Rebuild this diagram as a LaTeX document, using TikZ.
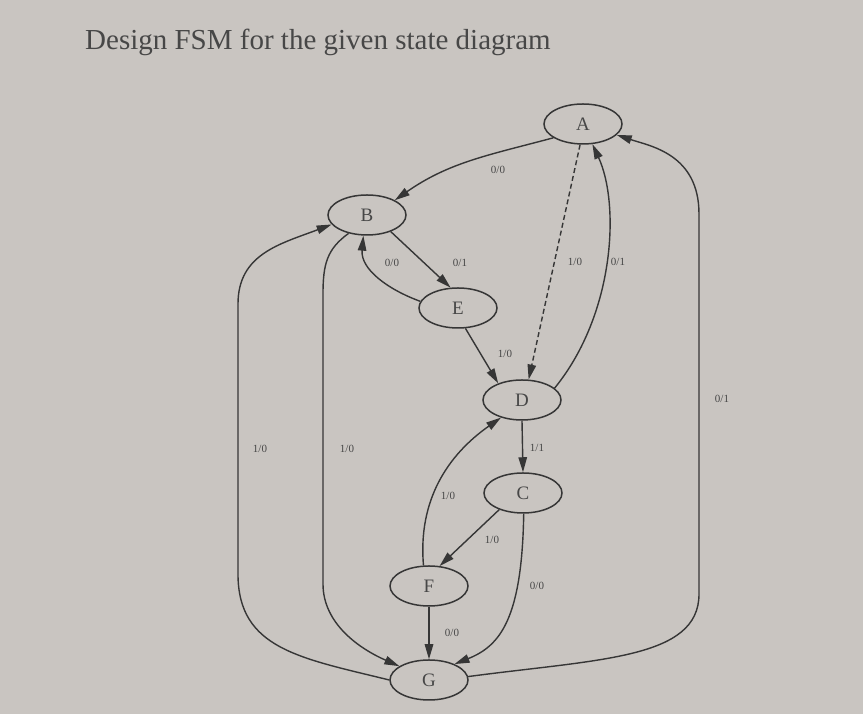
\documentclass[tikz,border=0pt]{standalone}
\usepackage{fontspec}
\setmainfont{Liberation Serif}
\usetikzlibrary{shapes.geometric,arrows.meta}
\definecolor{bgc}{HTML}{C9C5C1}
\definecolor{linec}{HTML}{363636}
\definecolor{txtc}{HTML}{474747}
\tikzset{
  st/.style={ellipse, draw=linec, line width=1.5pt, fill=bgc, minimum width=78pt, minimum height=40pt, inner sep=0pt, text=txtc, font=\fontsize{19}{22}\selectfont},
  edge/.style={draw=linec, line width=1.4pt, -{Triangle[length=15pt,width=8.5pt]}},
  lbl/.style={text=txtc, font=\fontsize{11}{13}\selectfont, inner sep=1pt},
}
\begin{document}
\begin{tikzpicture}[x=1pt,y=1pt]
\fill[bgc] (0,0) rectangle (863,714);
\useasboundingbox (0,0) rectangle (863,714);
\node[anchor=base west, text=txtc, font=\fontsize{29}{35}\selectfont, inner sep=0pt] (title) at (85,664) {Design FSM for the given state diagram};
\node[st] (A) at (583,590) {A};
\node[st] (B) at (367,499) {B};
\node[st] (E) at (458,406) {E};
\node[st] (D) at (522,314) {D};
\node[st] (C) at (523,221) {C};
\node[st] (F) at (429,128) {F};
\node[st] (G) at (429,34) {G};
\draw[edge] (A.205) to[out=195,in=35] (B.28);
\draw[edge,dash pattern=on 5pt off 3pt] (A.262) -- (D.72);
\draw[edge] (D.20) .. controls (615,400) and (620,510) .. (A.-65);
\draw[edge] (G.5) .. controls (600,55) and (699,55) .. (699,120) -- (699,500) .. controls (699,560) and (650,568) .. (A.-18);
\draw[edge] (G.180) .. controls (300,56) and (238,65) .. (238,140) -- (238,410) .. controls (238,460) and (280,470) .. (B.195);
\draw[edge] (B.225) .. controls (327,465) and (323,450) .. (323,420) -- (323,130) .. controls (323,90) and (360,65) .. (G.155);
\draw[edge] (B.-35) -- (E.110);
\draw[edge] (E.170) to[out=160,in=-95] (B.-100);
\draw[edge] (E.-70) -- (D.145);
\draw[edge] (D.-90) -- (C.90);
\draw[edge] (F.105) to[out=95,in=215] (D.-140);
\draw[edge] (C.-145) -- (F.62);
\draw[edge] (C.-88) .. controls (522,95) and (500,68) .. (G.32);
\draw[edge] (F.-90) -- (G.90);
\node[lbl] (lAB) at (498,544) {0/0};
\node[lbl] (lBE) at (460,451) {0/1};
\node[lbl] (lEB) at (392,451) {0/0};
\node[lbl] (lAD) at (575,452) {1/0};
\node[lbl] (lDA) at (618,452) {0/1};
\node[lbl] (lED) at (505,360) {1/0};
\node[lbl] (lDC) at (537,266) {1/1};
\node[lbl] (lFD) at (448,218) {1/0};
\node[lbl] (lCF) at (492,174) {1/0};
\node[lbl] (lCG) at (537,128) {0/0};
\node[lbl] (lFG) at (452,81) {0/0};
\node[lbl] (lGB) at (260,265) {1/0};
\node[lbl] (lBG) at (347,265) {1/0};
\node[lbl] (lGA) at (722,315) {0/1};
\end{tikzpicture}
\end{document}
